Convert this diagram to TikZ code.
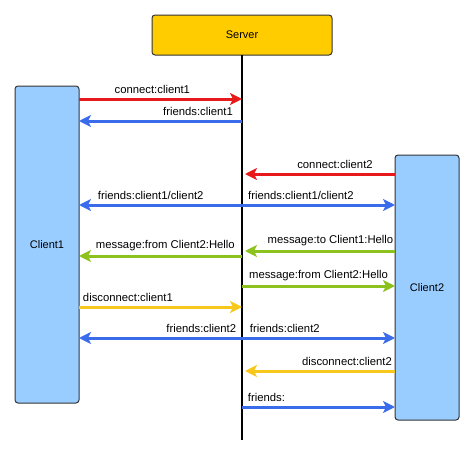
\documentclass[tikz,border=0pt]{standalone}
\usepackage{fontspec}
\setmainfont{Liberation Sans}
\usepackage{xcolor}
\usetikzlibrary{arrows.meta,positioning,calc}

\definecolor{msgred}{HTML}{E8191A}
\definecolor{msgblue}{HTML}{3A6BEA}
\definecolor{msggreen}{HTML}{8CC21E}
\definecolor{msgyellow}{HTML}{F7C81B}
\definecolor{clientfill}{HTML}{99CCFF}
\definecolor{serverfill}{HTML}{FFCC00}
\definecolor{edge}{HTML}{333333}

\begin{document}
\begin{tikzpicture}[
  x=1pt, y=-1pt,
  actor/.style={draw=edge, line width=1pt, rounded corners=3pt, inner sep=0pt, outer sep=0pt, font=\fontsize{11}{13}\selectfont},
  msg/.style={line width=3pt, -{Stealth[length=12pt, width=12pt, inset=3pt]}},
  lbl/.style={above=3pt, inner sep=1pt, font=\fontsize{11.3}{13}\selectfont, text=black}
]
  \useasboundingbox (0,0) rectangle (474,455);

  \node[actor, fill=serverfill, minimum width=180pt, minimum height=40pt] (srv) at (242,35) {Server};
  \node[actor, fill=clientfill, minimum width=64pt, minimum height=317pt] (cl1) at (47,244.5) {Client1};
  \node[actor, fill=clientfill, minimum width=64pt, minimum height=265pt] (cl2) at (427,287.5) {Client2};

  % lifeline of the server
  \coordinate (life) at (242,440);
  \draw[line width=1.5pt] (srv.south) -- (life);

  % message rows on the lifeline
  \coordinate (m1) at (242,99);
  \coordinate (m2) at (242,121);
  \coordinate (m3) at (245,174);
  \coordinate (m4) at (242,205);
  \coordinate (m5) at (245,251);
  \coordinate (m6) at (242,256);
  \coordinate (m7) at (242,286);
  \coordinate (m8) at (242,307);
  \coordinate (m9) at (242,338);
  \coordinate (m10) at (245,371);
  \coordinate (m11) at (242,407);

  \draw[msg, msgred] (cl1.east |- m1) -- node[lbl, pos=0.45] {connect:client1} (m1);
  \draw[msg, msgblue] (m2) -- node[lbl, pos=0.27] {friends:client1} (cl1.east |- m2);
  \draw[msg, msgred] (cl2.west |- m3) -- node[lbl, pos=0.4] {connect:client2} (m3);
  \draw[msg, msgblue] (m4) -- node[lbl, pos=0.56] {friends:client1/client2} (cl1.east |- m4);
  \draw[msg, msgblue] (m4) -- node[lbl, pos=0.385] {friends:client1/client2} (cl2.west |- m4);
  \draw[msg, msggreen] (cl2.west |- m5) -- node[lbl, pos=0.43] {message:to Client1:Hello} (m5);
  \draw[msg, msggreen] (m6) -- node[lbl, pos=0.47] {message:from Client2:Hello} (cl1.east |- m6);
  \draw[msg, msggreen] (m7) -- node[lbl, pos=0.5] {message:from Client2:Hello} (cl2.west |- m7);
  \draw[msg, msgyellow] (cl1.east |- m8) -- node[lbl, pos=0.3] {disconnect:client1} (m8);
  \draw[msg, msgblue] (m9) -- node[lbl, pos=0.25] {friends:client2} (cl1.east |- m9);
  \draw[msg, msgblue] (m9) -- node[lbl, pos=0.28] {friends:client2} (cl2.west |- m9);
  \draw[msg, msgyellow] (cl2.west |- m10) -- node[lbl, pos=0.32] {disconnect:client2} (m10);
  \draw[msg, msgblue] (m11) -- node[lbl, pos=0.16] {friends:} (cl2.west |- m11);
\end{tikzpicture}
\end{document}
